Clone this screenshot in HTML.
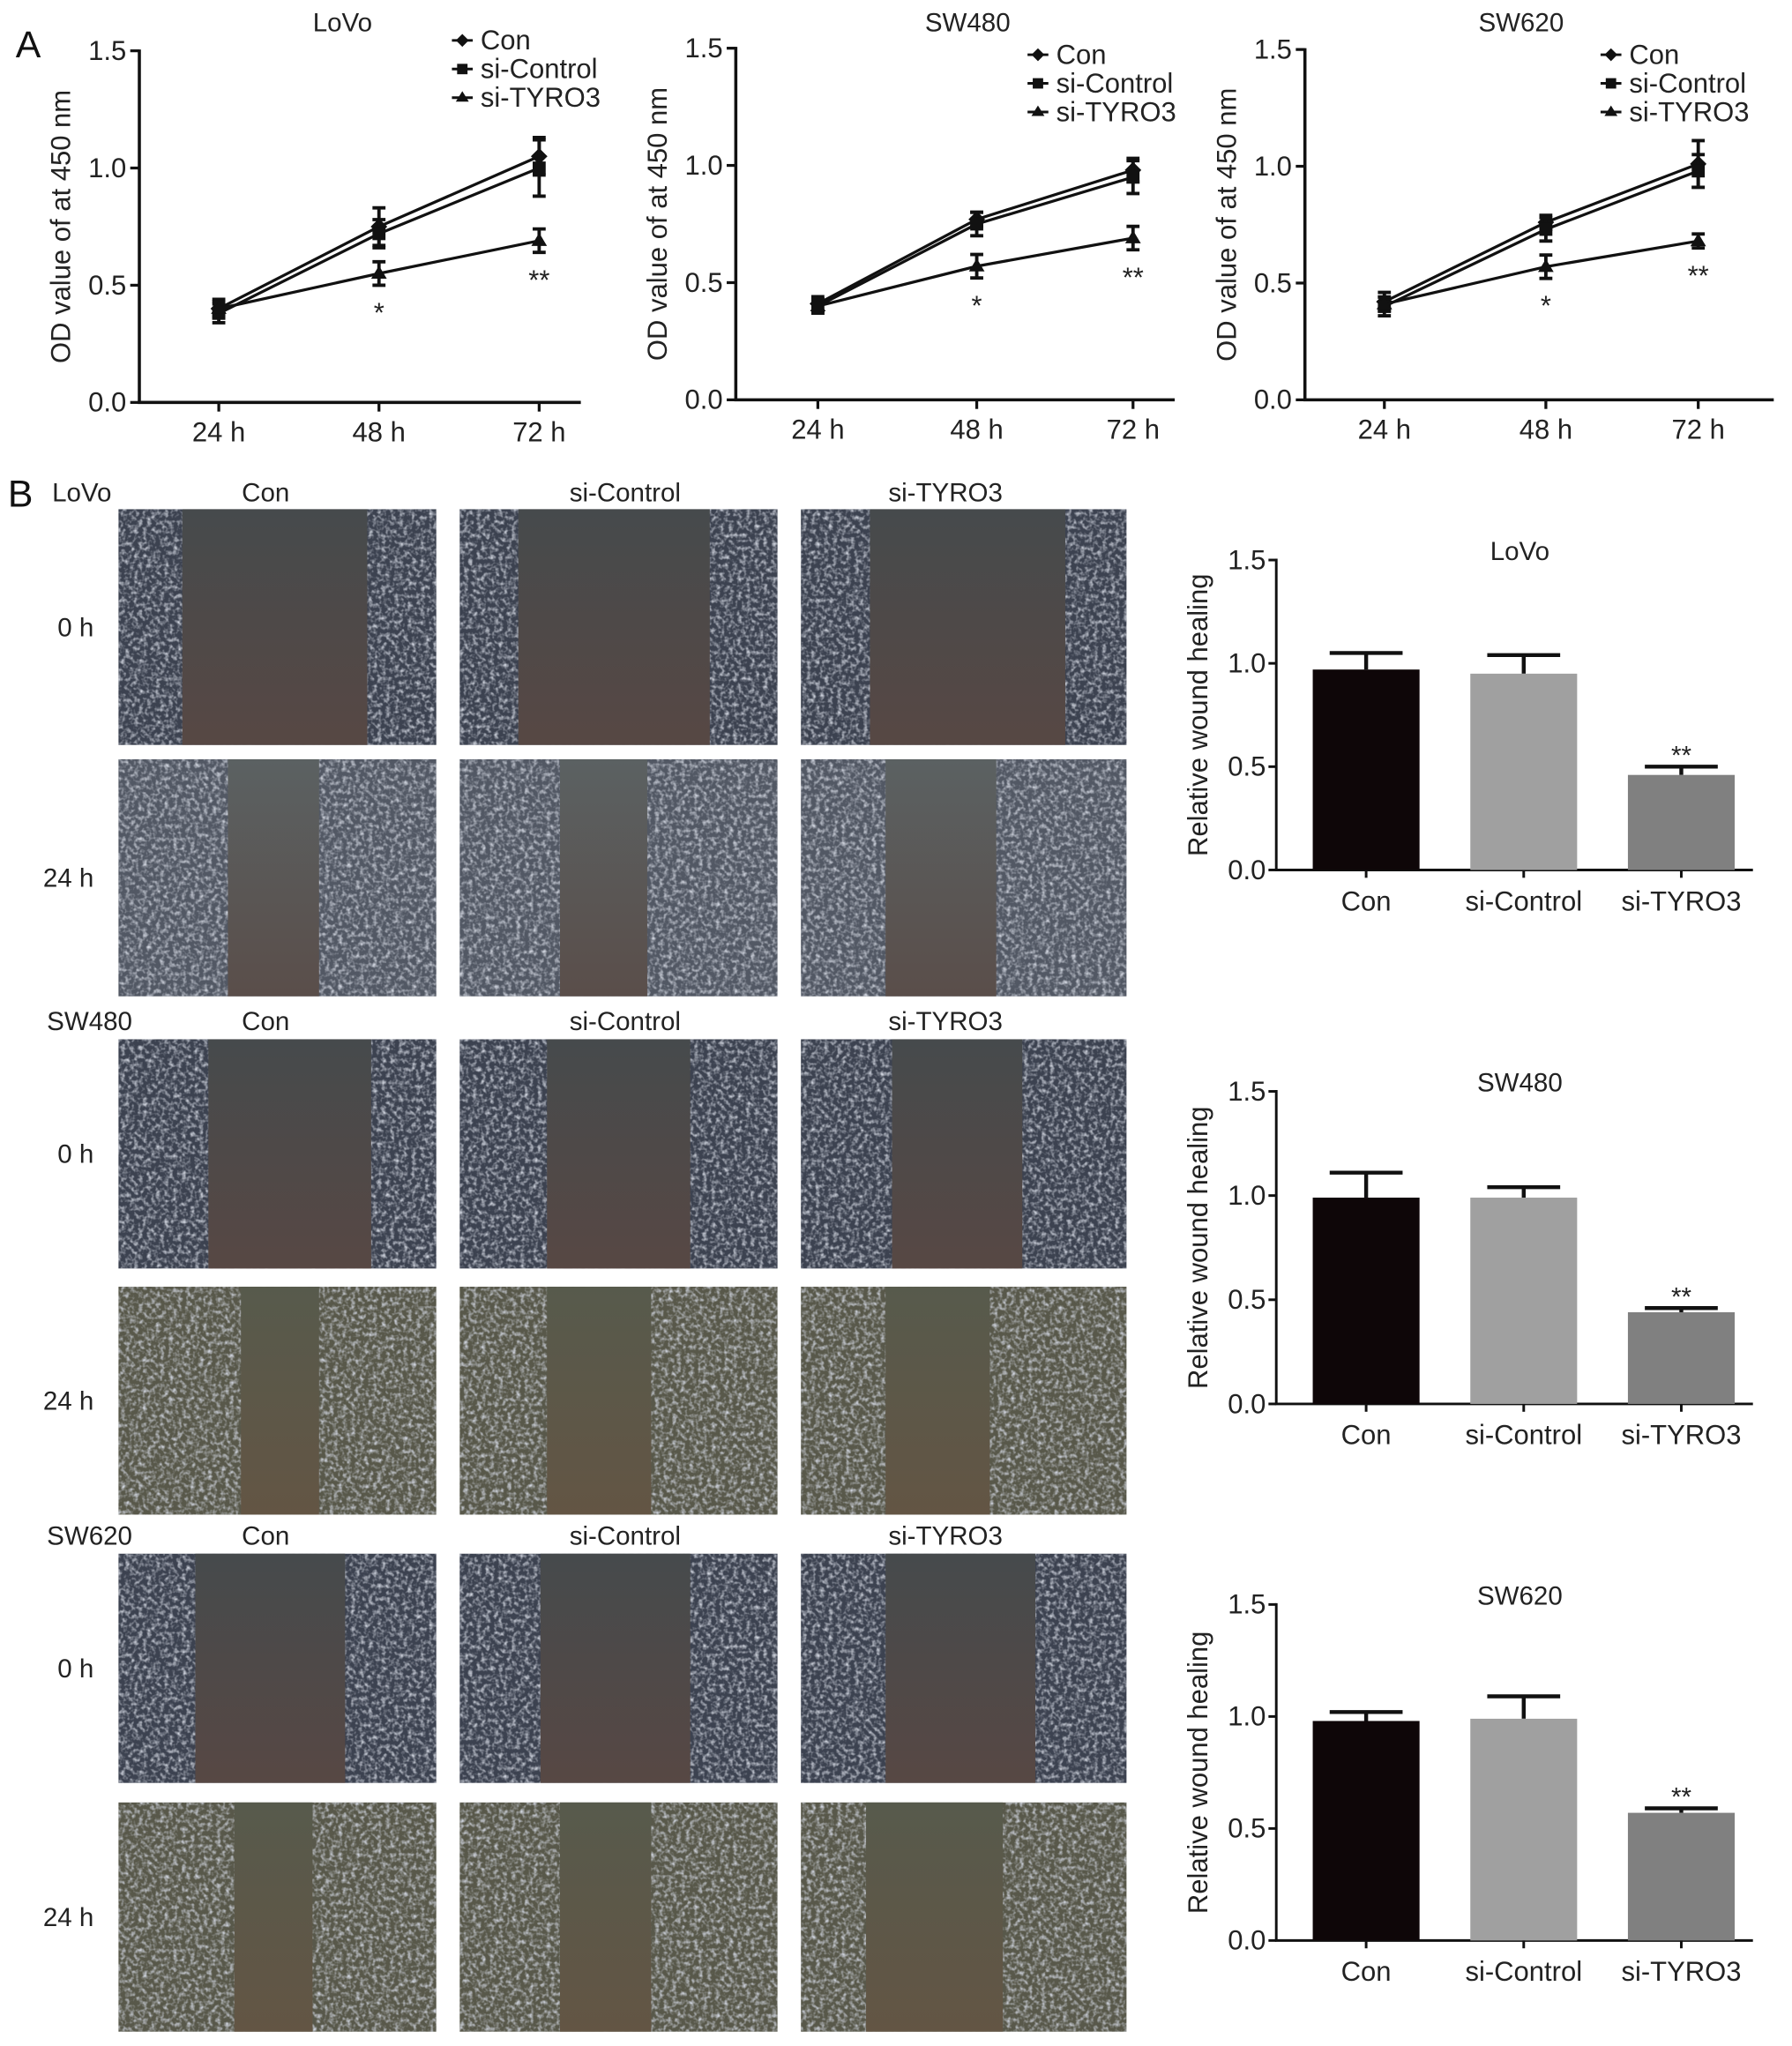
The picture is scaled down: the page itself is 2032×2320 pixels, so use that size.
<!DOCTYPE html>
<html><head><meta charset="utf-8"><style>
html,body{margin:0;padding:0;background:#fff;}
svg{display:block;font-family:"Liberation Sans",sans-serif;}
</style></head><body>
<svg id="fig" width="2032" height="2320" viewBox="0 0 1376 1571" xmlns="http://www.w3.org/2000/svg">
<defs>
<filter id="cells" x="0" y="0" width="100%" height="100%">
<feTurbulence type="fractalNoise" baseFrequency="0.3" numOctaves="2" seed="3" result="n"/>
<feColorMatrix type="matrix" in="n" values="0 0 0 0 0.62  0 0 0 0 0.65  0 0 0 0 0.72  2.2 0 0 0 -0.95" result="c"/>
<feComposite in="c" in2="SourceGraphic" operator="in"/>
</filter>
<linearGradient id="gap0" x1="0" y1="0" x2="0" y2="1"><stop offset="0" stop-color="#464a4c"/><stop offset="1" stop-color="#574844"/></linearGradient>
<linearGradient id="gap24" x1="0" y1="0" x2="0" y2="1"><stop offset="0" stop-color="#5b6162"/><stop offset="1" stop-color="#5a4e4a"/></linearGradient>
<linearGradient id="gapY" x1="0" y1="0" x2="0" y2="1"><stop offset="0" stop-color="#575a4c"/><stop offset="1" stop-color="#635544"/></linearGradient>
</defs>
<g id="root"></g>
</svg>
<script>
// ---- Panel A data ----
const timeLabels = ["24 h", "48 h", "72 h"];
const seriesNames = ["Con", "si-Control", "si-TYRO3"];
const yTicksA = [0.0, 0.5, 1.0, 1.5];
const lovoCon = [0.40, 0.75, 1.05];
const lovoCtl = [0.38, 0.72, 1.00];
const lovoTyro = [0.40, 0.55, 0.69];
const lovoErr = [[0.04, 0.08, 0.08], [0.04, 0.06, 0.12], [0.03, 0.05, 0.05]];
const sw480Con = [0.41, 0.77, 0.98];
const sw480Ctl = [0.40, 0.75, 0.95];
const sw480Tyro = [0.40, 0.57, 0.69];
const sw480Err = [[0.03, 0.03, 0.05], [0.03, 0.05, 0.07], [0.03, 0.05, 0.05]];
const sw620Con = [0.42, 0.76, 1.01];
const sw620Ctl = [0.40, 0.73, 0.98];
const sw620Tyro = [0.41, 0.57, 0.68];
const sw620Err = [[0.04, 0.03, 0.10], [0.04, 0.05, 0.07], [0.03, 0.05, 0.03]];
const starsA = ["", "*", "**"];
// ---- Panel B data ----
const groupLabels = ["Con", "si-Control", "si-TYRO3"];
const yTicksB = [0.0, 0.5, 1.0, 1.5];
const lovoWound = [0.97, 0.95, 0.46];
const lovoWoundErr = [0.08, 0.09, 0.04];
const sw480Wound = [0.99, 0.99, 0.44];
const sw480WoundErr = [0.12, 0.05, 0.02];
const sw620Wound = [0.98, 0.99, 0.57];
const sw620WoundErr = [0.04, 0.10, 0.02];
const starsB = ["", "", "**"];

const NS = "http://www.w3.org/2000/svg";
const root = document.getElementById("root");
function mk(tag, attrs, parent, text) {
  const e = document.createElementNS(NS, tag);
  for (const k in attrs) e.setAttribute(k, attrs[k]);
  if (text !== undefined) e.textContent = text;
  (parent || root).appendChild(e);
  return e;
}

function lineChart(cfg) {
  const g = mk("g", {});
  
  
  const y = v => cfg.y0 - (v / 1.5) * (cfg.y0 - cfg.yTop);
  const x = i => cfg.xt[i];
  const ax = mk("path", {d: `M${cfg.ax} ${cfg.yTop - 1}V${cfg.y0}H${cfg.xEnd}`, fill: "none", stroke: "#111", "stroke-width": 2.4}, g);
  
  
  yTicksA.forEach(t => {
    mk("line", {x1: cfg.ax - 7, x2: cfg.ax, y1: y(t), y2: y(t), stroke: "#111", "stroke-width": 2.2}, g);
    const tl = mk("text", {x: cfg.ax - 10, y: y(t) + 7, "text-anchor": "end", "font-size": 21, fill: "#222"}, g, t.toFixed(1));
    
    
  });
  timeLabels.forEach((lab, i) => {
    mk("line", {x1: x(i), x2: x(i), y1: cfg.y0, y2: cfg.y0 + 7, stroke: "#111", "stroke-width": 2.2}, g);
    const tl = mk("text", {x: x(i), y: cfg.y0 + 30, "text-anchor": "middle", "font-size": 21, fill: "#222"}, g, lab);
    
    
  });
  const yl = mk("text", {x: 0, y: 0, transform: `translate(${cfg.ax - 53},${(cfg.y0 + cfg.yTop) / 2}) rotate(-90)`, "text-anchor": "middle", "font-size": 21, fill: "#222"}, g, "OD value of at 450 nm");
  
  
  const tt = mk("text", {x: cfg.titleX, y: cfg.titleY, "text-anchor": "middle", "font-size": 20, fill: "#222"}, g, cfg.title);
  
  
  cfg.series.forEach((s, si) => {
    const pts = s.map((v, i) => `${x(i)},${y(v)}`).join(" ");
    const pl = mk("polyline", {points: pts, fill: "none", stroke: "#111", "stroke-width": 2.2}, g);
    
    
    s.forEach((v, i) => {
      const e = cfg.err[si][i];
      mk("path", {d: `M${x(i)} ${y(v + e)}V${y(v - e)}M${x(i) - 5} ${y(v + e)}h10M${x(i) - 5} ${y(v - e)}h10`, stroke: "#111", "stroke-width": 2.6, fill: "none"}, g);
      let m;
      if (si === 0) m = mk("rect", {x: x(i) - 4.5, y: y(v) - 4.5, width: 9, height: 9, transform: `rotate(45 ${x(i)} ${y(v)})`, fill: "#111"}, g);
      else if (si === 1) m = mk("rect", {x: x(i) - 5, y: y(v) - 5, width: 10, height: 10, fill: "#111"}, g);
      else m = mk("path", {d: `M${x(i)} ${y(v) - 6}l6 10h-12z`, fill: "#111"}, g);
      
      
    });
  });
  starsA.forEach((st, i) => {
    if (!st) return;
    const sv = cfg.series[2][i] - cfg.err[2][i] - 0.09;
    mk("text", {x: x(i), y: y(sv) + 12, "text-anchor": "middle", "font-size": 21, fill: "#222"}, g, st);
  });
  seriesNames.forEach((n, si) => {
    const ly = cfg.legY + si * 22;
    const lg = mk("g", {}, g);
    
    
    mk("line", {x1: cfg.legX - 8, x2: cfg.legX + 8, y1: ly, y2: ly, stroke: "#111", "stroke-width": 2}, lg);
    if (si === 0) mk("rect", {x: cfg.legX - 3.5, y: ly - 3.5, width: 7, height: 7, transform: `rotate(45 ${cfg.legX} ${ly})`, fill: "#111"}, lg);
    else if (si === 1) mk("rect", {x: cfg.legX - 4, y: ly - 4, width: 8, height: 8, fill: "#111"}, lg);
    else mk("path", {d: `M${cfg.legX} ${ly - 5}l5 8h-10z`, fill: "#111"}, lg);
    mk("text", {x: cfg.legX + 14, y: ly + 7, "font-size": 21, fill: "#222"}, lg, n);
  });
}

lineChart({name: "lovo-proliferation-chart", title: "LoVo", titleX: 263, titleY: 24, ax: 107, yTop: 39, y0: 309, xEnd: 446, xt: [168, 291, 414], legX: 355, legY: 31, series: [lovoCon, lovoCtl, lovoTyro], err: lovoErr});
lineChart({name: "sw480-proliferation-chart", title: "SW480", titleX: 743, titleY: 24, ax: 565, yTop: 37, y0: 307, xEnd: 902, xt: [628, 750, 870], legX: 797, legY: 42, series: [sw480Con, sw480Ctl, sw480Tyro], err: sw480Err});
lineChart({name: "sw620-proliferation-chart", title: "SW620", titleX: 1168, titleY: 24, ax: 1002, yTop: 38, y0: 307, xEnd: 1362, xt: [1063, 1187, 1304], legX: 1237, legY: 42, series: [sw620Con, sw620Ctl, sw620Tyro], err: sw620Err});

function barChart(cfg) {
  const g = mk("g", {});
  
  
  const y = v => cfg.y0 - (v / 1.5) * (cfg.y0 - cfg.yTop);
  const xs = [1049, 1170, 1291];
  const cols = ["#0e0608", "#a0a0a0", "#808080"];
  mk("path", {d: `M${cfg.ax} ${cfg.yTop - 1}V${cfg.y0}H1346`, fill: "none", stroke: "#111", "stroke-width": 2}, g);
  yTicksB.forEach(t => {
    mk("line", {x1: cfg.ax - 6, x2: cfg.ax, y1: y(t), y2: y(t), stroke: "#111", "stroke-width": 2}, g);
    const tl = mk("text", {x: cfg.ax - 8, y: y(t) + 7, "text-anchor": "end", "font-size": 21, fill: "#222"}, g, t.toFixed(1));
    
    
  });
  const yl = mk("text", {x: 0, y: 0, transform: `translate(${cfg.ax - 53},${(cfg.y0 + cfg.yTop) / 2}) rotate(-90)`, "text-anchor": "middle", "font-size": 21, fill: "#222"}, g, "Relative wound healing");
  
  
  const tt = mk("text", {x: 1167, y: cfg.yTop, "text-anchor": "middle", "font-size": 20, fill: "#222"}, g, cfg.title);
  
  
  groupLabels.forEach((lab, i) => {
    const v = cfg.vals[i], e = cfg.err[i];
    mk("path", {d: `M${xs[i]} ${y(v)}V${y(v + e)}M${xs[i] - 28} ${y(v + e)}h56`, stroke: "#111", "stroke-width": 3, fill: "none"}, g);
    const b = mk("rect", {x: xs[i] - 41, y: y(v), width: 82, height: cfg.y0 - y(v), fill: cols[i]}, g);
    
    
    mk("line", {x1: xs[i], x2: xs[i], y1: cfg.y0, y2: cfg.y0 + 6, stroke: "#111", "stroke-width": 2}, g);
    const tl = mk("text", {x: xs[i], y: cfg.y0 + 31, "text-anchor": "middle", "font-size": 21, fill: "#222"}, g, lab);
    
    
    if (starsB[i]) mk("text", {x: xs[i], y: y(v + e) - 2, "text-anchor": "middle", "font-size": 20, fill: "#222"}, g, starsB[i]);
  });
}
barChart({name: "lovo-wound-chart", title: "LoVo", ax: 980, yTop: 430, y0: 668, vals: lovoWound, err: lovoWoundErr});
barChart({name: "sw480-wound-chart", title: "SW480", ax: 980, yTop: 838, y0: 1078, vals: sw480Wound, err: sw480WoundErr});
barChart({name: "sw620-wound-chart", title: "SW620", ax: 980, yTop: 1232, y0: 1490, vals: sw620Wound, err: sw620WoundErr});

// panel labels
const pa = mk("text", {x: 12, y: 44, "font-size": 29, fill: "#111"}, root, "A");


const pb = mk("text", {x: 6, y: 389, "font-size": 29, fill: "#111"}, root, "B");



// micrographs
const colX = [[91, 335], [353, 597], [615, 865]];
const rows = [
  {line: "LoVo", hy: 385, img: [[391, 572, "0 h", "gap0", [[140, 282], [398, 545], [668, 818]]], [583, 765, "24 h", "gap24", [[175, 245], [430, 497], [680, 765]]]]},
  {line: "SW480", hy: 791, img: [[798, 974, "0 h", "gap0", [[160, 285], [420, 530], [685, 785]]], [988, 1163, "24 h", "gapY", [[185, 245], [420, 500], [680, 760]]]]},
  {line: "SW620", hy: 1186, img: [[1193, 1369, "0 h", "gap0", [[150, 265], [415, 530], [680, 795]]], [1384, 1560, "24 h", "gapY", [[180, 240], [430, 500], [665, 770]]]]}
];
rows.forEach(r => {
  const lt = mk("text", {x: r.line === "LoVo" ? 40 : 36, y: r.hy, "font-size": 20, fill: "#222"}, root, r.line);
  
  
  groupLabels.forEach((gl, i) => {
    const h = mk("text", {x: [204, 480, 726][i], y: r.hy, "text-anchor": "middle", "font-size": 20, fill: "#222"}, root, gl);
    
    
  });
  r.img.forEach(im => {
    const [y1, y2, lab, gap, gaps] = im;
    const rl = mk("text", {x: 72, y: (y1 + y2) / 2 + 7, "text-anchor": "end", "font-size": 20, fill: "#222"}, root, lab);
    
    
    colX.forEach((c, i) => {
      const g = mk("g", {});
      
      
      const base = gap === "gap0" ? "#3c4250" : (gap === "gapY" ? "#58584a" : "#525864");
      mk("rect", {x: c[0], y: y1, width: c[1] - c[0], height: y2 - y1, fill: base}, g);
      mk("rect", {x: c[0], y: y1, width: c[1] - c[0], height: y2 - y1, fill: "#000", filter: "url(#cells)"}, g);
      mk("rect", {x: gaps[i][0], y: y1, width: gaps[i][1] - gaps[i][0], height: y2 - y1, fill: "url(#" + gap + ")"}, g);
    });
  });
});
</script>
</body></html>
